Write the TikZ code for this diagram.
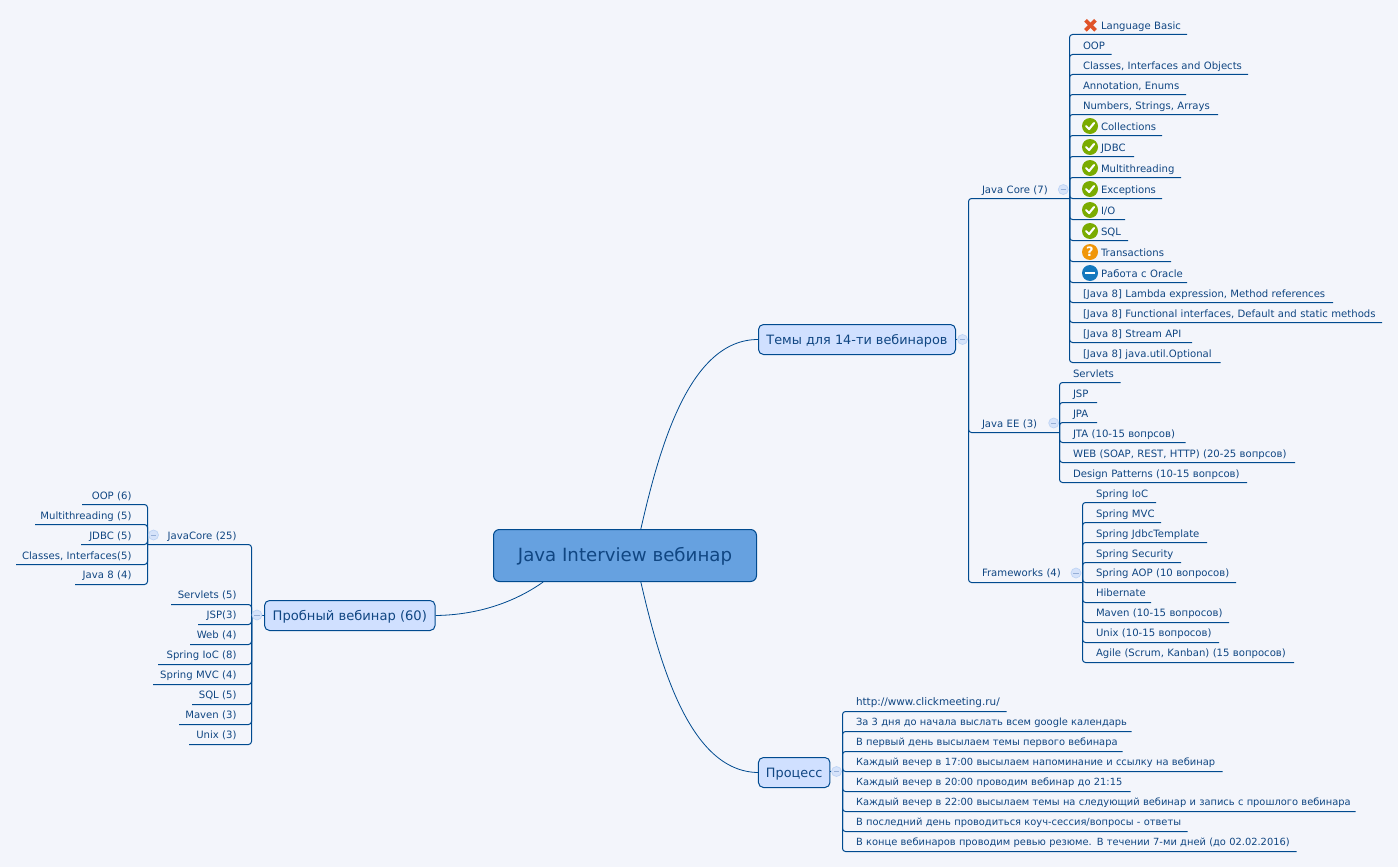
\documentclass[tikz,border=0pt]{standalone}
\usepackage{fontspec}
\setmainfont{DejaVu Sans}
\usetikzlibrary{calc}
\definecolor{bgc}{RGB}{243,245,251}
\definecolor{ink}{RGB}{0,74,143}
\definecolor{txt}{RGB}{16,70,130}
\definecolor{rootfill}{RGB}{102,161,224}
\definecolor{topfill}{RGB}{208,224,255}
\definecolor{collfill}{RGB}{214,227,250}
\definecolor{colledge}{RGB}{190,212,245}
\definecolor{collminus}{RGB}{150,175,215}
\definecolor{okgreen}{RGB}{122,171,0}
\definecolor{qorange}{RGB}{240,150,10}
\definecolor{minblue}{RGB}{20,120,190}
\definecolor{xred}{RGB}{224,82,40}
\tikzset{
 conn/.style={draw=ink,line width=1pt,rounded corners=3pt},
 curve/.style={draw=ink,line width=0.8pt},
 leaftext/.style={inner sep=0pt,outer sep=0pt,text=txt,font=\fontsize{10.1}{12}\selectfont,text height=8pt,text depth=5.3pt},
 deep/.style={text depth=6pt},
 proctext/.style={deep,font=\fontsize{9.88}{12}\selectfont},
 toppic/.style={draw=ink,line width=1pt,fill=topfill,rounded corners=5pt,inner sep=0pt,text=txt,font=\fontsize{12.85}{15}\selectfont,text height=11.5pt,text depth=2.5pt},
 rootnode/.style={draw=ink,line width=1pt,fill=rootfill,rounded corners=6pt,inner sep=0pt,text=txt,font=\fontsize{18.2}{20}\selectfont,text height=16pt,text depth=3.6pt},
 coll/.style={circle,draw=colledge,fill=collfill,line width=0.7pt,minimum size=10pt,inner sep=0pt,
   path picture={\draw[collminus,line width=0.8pt] ([xshift=-2.6pt]path picture bounding box.center)--([xshift=2.6pt]path picture bounding box.center);}},
 ico/.style={circle,minimum size=16pt,inner sep=0pt},
}
% \rleaf[opts]{name}{parent junction}{text x}{line y}{end x}{text}
\newcommand\rleaf[7][]{%
 \pgfmathsetmacro\lw{#6-#4}%
 \node[leaftext,#1,anchor=south west,text width=\lw pt,align=left] (#2) at (#4,#5) {\mbox{#7}};
 \draw[conn] (#3) |- (#2.south east);}
% \lleaf[opts]{name}{parent junction}{start x}{line y}{text right x}{text}
\newcommand\lleaf[7][]{%
 \pgfmathsetmacro\lw{#6-#4}%
 \node[leaftext,#1,anchor=south east,text width=\lw pt,align=right] (#2) at (#6,#5) {\mbox{#7}};
 \draw[conn] (#3) |- (#2.south west);}
\newcommand\okicon[2]{\node[ico,fill=okgreen] (#1) at (1090,#2) {};
 \draw[white,line width=2.1pt,line cap=round,line join=round] ($(#1)+(-3.8,0.2)$)--($(#1)+(-0.9,3.1)$)--($(#1)+(4,-3)$);}
\begin{document}
\begin{tikzpicture}[x=1pt,y=-1pt]
\useasboundingbox[fill=bgc] (0,0) rectangle (1398,867);
% central and main topics
\node[rootnode,minimum width=263pt,minimum height=52pt] (root) at (625,555.5) {Java Interview вебинар};
\node[toppic,minimum width=197pt,minimum height=30pt] (themes) at (857,339.5) {Темы для 14-ти вебинаров};
\node[toppic,minimum width=71.5pt,minimum height=30pt] (proc) at (794.2,772.5) {Процесс};
\node[toppic,font=\fontsize{13.1}{15}\selectfont,minimum width=170.5pt,minimum height=30pt] (trial) at (349.8,615.5) {Пробный вебинар (60)};
\draw[curve] ($(root.north west)!0.56!(root.north east)$) .. controls (660,445) and (690,339.5) .. (themes.west);
\draw[curve] ($(root.south west)!0.56!(root.south east)$) .. controls (660,665) and (690,771.5) .. (proc.west);
\draw[curve] ($(root.south west)!0.19!(root.south east)$) .. controls (515,602) and (478,615) .. (trial.east);
% junctions on the main topics
\coordinate (jt) at (968.5,339.5);
\coordinate (jp) at (842.5,771.5);
\coordinate (jl) at (251.5,615.5);
\draw[conn] (themes.east) -- (jt);
\draw[conn] (jp -| proc.east) -- (jp);
\draw[conn] (trial.west) -- (jl);
% Java Core
\rleaf{jcore}{jt}{982}{198.5}{1069.5}{Java Core (7)}
\rleaf{a1}{jcore.south east}{1101}{34.5}{1187}{Language Basic}
\rleaf{a2}{jcore.south east}{1083}{54.5}{1111.5}{OOP}
\rleaf{a3}{jcore.south east}{1083}{74.5}{1248}{Classes, Interfaces and Objects}
\rleaf{a4}{jcore.south east}{1083}{94.5}{1186}{Annotation, Enums}
\rleaf{a5}{jcore.south east}{1083}{114.5}{1218}{Numbers, Strings, Arrays}
\rleaf{a6}{jcore.south east}{1101}{135.5}{1162}{Collections}
\rleaf{a7}{jcore.south east}{1101}{156.5}{1134}{JDBC}
\rleaf{a8}{jcore.south east}{1101}{177.5}{1181}{Multithreading}
\rleaf{a9}{jcore.south east}{1101}{198.5}{1162}{Exceptions}
\rleaf{a10}{jcore.south east}{1101}{219.5}{1125}{I/O}
\rleaf{a11}{jcore.south east}{1101}{240.5}{1128}{SQL}
\rleaf{a12}{jcore.south east}{1101}{261.5}{1171}{Transactions}
\rleaf{a13}{jcore.south east}{1101}{282.5}{1187}{Работа с Oracle}
\rleaf{a14}{jcore.south east}{1083}{302.5}{1333}{[Java 8] Lambda expression, Method references}
\rleaf{a15}{jcore.south east}{1083}{322.5}{1382}{[Java 8] Functional interfaces, Default and static methods}
\rleaf{a16}{jcore.south east}{1083}{342.5}{1192}{[Java 8] Stream API}
\rleaf{a17}{jcore.south east}{1083}{362.5}{1220.5}{[Java 8] java.util.Optional}
% icons
\node[ico] (ix) at (1090.5,25.3) {};
\draw[xred,line width=3.8pt] ($(ix)+(-5,-5)$) -- ($(ix)+(5,5)$);
\draw[xred,line width=3.8pt] ($(ix)+(5,-5)$) -- ($(ix)+(-5,5)$);
\okicon{i6}{126}\okicon{i7}{147}\okicon{i8}{168}\okicon{i9}{189}\okicon{i10}{210}\okicon{i11}{231}
\node[ico,fill=qorange,text=white,font=\fontsize{13}{13}\selectfont\bfseries] (i12) at (1090,252) {?};
\node[ico,fill=minblue] (i13) at (1090,273) {};
\draw[white,line width=2.8pt] ($(i13)+(-5,0)$)--($(i13)+(5,0)$);
% Java EE
\rleaf{jee}{jt}{982}{432.5}{1059.5}{Java EE (3)}
\rleaf{b1}{jee.south east}{1073}{382.5}{1120.5}{Servlets}
\rleaf{b2}{jee.south east}{1073}{402.5}{1097}{JSP}
\rleaf{b3}{jee.south east}{1073}{422.5}{1097}{JPA}
\rleaf{b4}{jee.south east}{1073}{442.5}{1185.5}{JTA (10-15 вопрсов)}
\rleaf{b5}{jee.south east}{1073}{462.5}{1295}{WEB (SOAP, REST, HTTP) (20-25 вопрсов)}
\rleaf{b6}{jee.south east}{1073}{482.5}{1247}{Design Patterns (10-15 вопрсов)}
% Frameworks
\rleaf[deep]{fw}{jt}{982}{582.5}{1082.5}{Frameworks (4)}
\rleaf{c1}{fw.south east}{1096}{502.5}{1156}{Spring IoC}
\rleaf{c2}{fw.south east}{1096}{522.5}{1161}{Spring MVC}
\rleaf{c3}{fw.south east}{1096}{542.5}{1207}{Spring JdbcTemplate}
\rleaf{c4}{fw.south east}{1096}{562.5}{1181}{Spring Security}
\rleaf[deep]{c5}{fw.south east}{1096}{582.5}{1236}{Spring AOP (10 вопросов)}
\rleaf[deep]{c6}{fw.south east}{1096}{602.5}{1151}{Hibernate}
\rleaf[deep]{c7}{fw.south east}{1096}{622.5}{1229}{Maven (10-15 вопросов)}
\rleaf[deep]{c8}{fw.south east}{1096}{642.5}{1219}{Unix (10-15 вопросов)}
\rleaf[deep]{c9}{fw.south east}{1096}{662.5}{1294}{Agile (Scrum, Kanban) (15 вопросов)}
% Process
\rleaf[deep,font=\fontsize{10.4}{12}\selectfont]{d1}{jp}{856}{711.5}{1006.5}{http://www.clickmeeting.ru/}
\rleaf[proctext]{d2}{jp}{856}{731.5}{1131.5}{За 3 дня до начала выслать всем google календарь}
\rleaf[proctext]{d3}{jp}{856}{751.5}{1122.5}{В первый день высылаем темы первого вебинара}
\rleaf[proctext]{d4}{jp}{856}{771.5}{1222.5}{Каждый вечер в 17:00 высылаем напоминание и ссылку на вебинар}
\rleaf[proctext]{d5}{jp}{856}{791.5}{1130.5}{Каждый вечер в 20:00 проводим вебинар до 21:15}
\rleaf[proctext]{d6}{jp}{856}{811.5}{1355.5}{Каждый вечер в 22:00 высылаем темы на следующий вебинар и запись с прошлого вебинара}
\rleaf[proctext]{d7}{jp}{856}{831.5}{1187.5}{В последний день проводиться коуч-сессия/вопросы - ответы}
\rleaf[proctext]{d8}{jp}{856}{851.5}{1296.5}{В конце вебинаров проводим ревью резюме. В течении 7-ми дней (до 02.02.2016)}
% Left side
\lleaf{jcl}{jl}{147.5}{544.5}{236.5}{JavaCore (25)}
\lleaf{e1}{jcl.south west}{82}{504.5}{131.5}{OOP (6)}
\lleaf{e2}{jcl.south west}{35}{524.5}{131.5}{Multithreading (5)}
\lleaf{e3}{jcl.south west}{81}{544.5}{131.5}{JDBC (5)}
\lleaf{e4}{jcl.south west}{16}{564.5}{131.5}{Classes, Interfaces(5)}
\lleaf[deep]{e5}{jcl.south west}{75}{584.5}{131.5}{Java 8 (4)}
\lleaf[deep]{f1}{jl}{171}{604.5}{236.5}{Servlets (5)}
\lleaf[deep]{f2}{jl}{198}{624.5}{236.5}{JSP(3)}
\lleaf[deep]{f3}{jl}{190}{644.5}{236.5}{Web (4)}
\lleaf[deep]{f4}{jl}{158}{664.5}{236.5}{Spring IoC (8)}
\lleaf[deep]{f5}{jl}{153}{684.5}{236.5}{Spring MVC (4)}
\lleaf[deep]{f6}{jl}{192}{704.5}{236.5}{SQL (5)}
\lleaf[deep]{f7}{jl}{179}{724.5}{236.5}{Maven (3)}
\lleaf[deep]{f8}{jl}{189}{744.5}{236.5}{Unix (3)}
% collapse markers
\node[coll] (m1) at (962.5,339.5) {};
\node[coll] (m2) at (1063.3,189.5) {};
\node[coll] (m3) at (1053.7,423) {};
\node[coll] (m4) at (1076,573) {};
\node[coll] (m5) at (836.5,771.5) {};
\node[coll] (m6) at (257,615) {};
\node[coll] (m7) at (153.5,535) {};
\end{tikzpicture}
\end{document}
